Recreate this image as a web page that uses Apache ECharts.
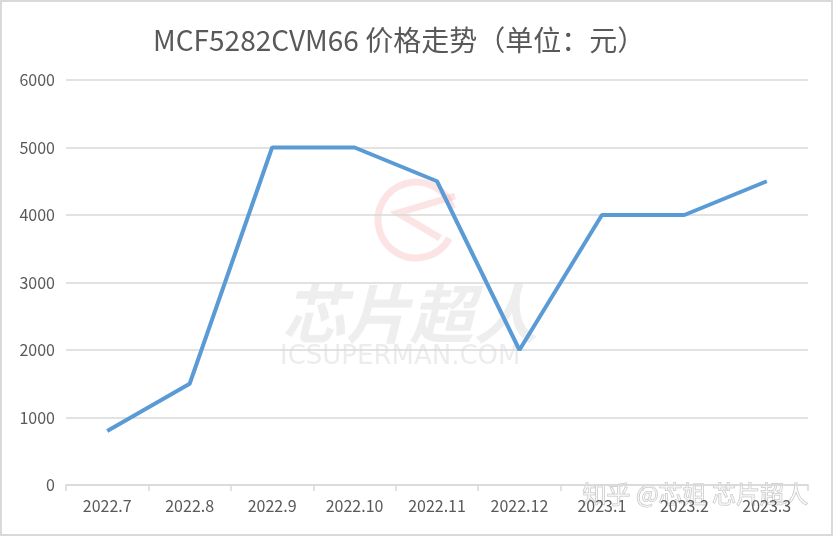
<!DOCTYPE html>
<html>
<head>
<meta charset="utf-8">
<script src="https://cdn.jsdelivr.net/npm/echarts@6/dist/echarts.min.js"></script>
<style>
  html, body { margin: 0; padding: 0; background: #fff; }
  #priceChart { width: 833px; height: 536px; }
</style>
</head>
<body>
<div id="priceChart"></div>
<script>
// data
var months = ["2022.7", "2022.8", "2022.9", "2022.10", "2022.11", "2022.12", "2023.1", "2023.2", "2023.3"];
var prices = [800, 1500, 5000, 5000, 4500, 2000, 4000, 4000, 4500];
var yMin = 0;
var yMax = 6000;
var yStep = 1000;

var chart = echarts.init(document.getElementById("priceChart"));
var font = "'Noto Sans CJK SC', 'Noto Sans', sans-serif";

var option = {
  animation: false,
  backgroundColor: "#fff",
  title: {
    text: "MCF5282CVM66 价格走势（单位：元）",
    left: 148,
    top: 21,
    textStyle: {
      color: "#595959",
      fontSize: 28,
      fontWeight: "normal",
      fontFamily: font
    }
  },
  grid: {
    left: 66,
    right: 25,
    top: 80,
    bottom: 51
  },
  xAxis: {
    type: "category",
    data: months,
    boundaryGap: true,
    axisLine: { lineStyle: { color: "#d9d9d9", width: 1.5 } },
    axisTick: { show: true, length: 6, lineStyle: { color: "#d9d9d9", width: 1.5 } },
    axisLabel: {
      color: "#595959",
      fontSize: 16,
      fontFamily: font,
      margin: 13,
      interval: 0
    }
  },
  yAxis: {
    type: "value",
    min: yMin,
    max: yMax,
    interval: yStep,
    axisLine: { show: false },
    axisTick: { show: false },
    axisLabel: {
      color: "#595959",
      fontSize: 16,
      fontFamily: font,
      margin: 11,
      formatter: function (v) { return String(v); }
    },
    splitLine: { lineStyle: { color: "#d9d9d9", width: 1.5 } }
  },
  graphic: [
    {
      type: "rect",
      silent: true,
      shape: { x: 1, y: 1, width: 831, height: 534 },
      style: { fill: "none", stroke: "#d9d9d9", lineWidth: 2 }
    },
    {
      type: "arc",
      silent: true,
      shape: { cx: 416, cy: 220, r: 38, startAngle: 0.5, endAngle: 2 * Math.PI - 0.3 },
      style: { fill: "none", stroke: "rgba(240,120,120,0.2)", lineWidth: 7 }
    },
    {
      type: "polyline",
      silent: true,
      shape: { points: [[455, 196], [398, 213], [440, 238]] },
      style: { fill: "none", stroke: "rgba(240,120,120,0.2)", lineWidth: 7 }
    },
    {
      type: "text",
      silent: true,
      left: 282,
      top: 282,
      style: {
        text: "芯片超人",
        fill: "rgba(200,200,200,0.3)",
        font: "italic bold 64px 'Noto Sans CJK SC'"
      }
    },
    {
      type: "text",
      silent: true,
      left: 280,
      top: 344,
      style: {
        text: "ICSUPERMAN.COM",
        fill: "rgba(200,200,200,0.35)",
        font: "26px 'DejaVu Sans'"
      }
    },
    {
      type: "text",
      silent: true,
      left: 582,
      top: 481,
      style: {
        text: "知乎 @芯姐 芯片超人",
        fill: "rgba(255,255,255,0.6)",
        stroke: "rgba(150,150,150,0.6)",
        lineWidth: 1,
        font: "24px 'Noto Sans CJK SC'"
      }
    }
  ],
  series: [
    {
      type: "line",
      data: prices,
      smooth: false,
      symbol: "none",
      lineStyle: { color: "#5b9bd5", width: 4 },
      z: 3
    }
  ]
};
chart.setOption(option);
</script>
</body>
</html>
